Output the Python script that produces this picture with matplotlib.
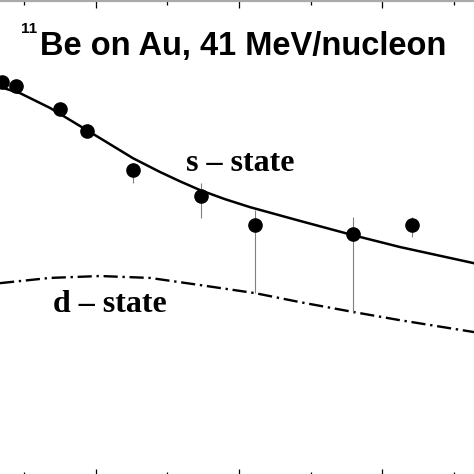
import matplotlib
matplotlib.use("Agg")
import matplotlib.pyplot as plt
from matplotlib.ticker import MultipleLocator

x_pts = [3.43, 4.41, 7.48, 9.37, 12.59, 17.34, 21.12, 27.97, 32.10]
y_pts = [8.29, 8.21, 7.73, 7.26, 6.44, 5.89, 5.28, 5.09, 5.28]
err_lo = [0.0, 0.0, 0.0, 0.0, 0.27, 0.46, 1.43, 1.66, 0.25]
err_hi = [0.0, 0.0, 0.0, 0.0, 0.15, 0.28, 0.32, 0.36, 0.17]

# s-state calculation
x_s = [3.29, 4.69, 6.78, 9.37, 12.59, 14.48, 15.90, 17.27, 19.00, 20.77, 24.27,
       27.97, 31.26, 36.43]
y_s = [8.19, 8.06, 7.75, 7.28, 6.69, 6.40, 6.20, 6.02, 5.83, 5.66, 5.37,
       5.07, 4.82, 4.48]

# d-state calculation
x_d = [3.29, 6.78, 10.28, 13.78, 17.27, 21.12, 24.27, 28.04, 31.26, 36.43]
y_d = [4.06, 4.17, 4.21, 4.17, 4.02, 3.85, 3.66, 3.45, 3.28, 3.03]

W = 474
fig = plt.figure(figsize=(4.74, 4.74), dpi=100)
ax = fig.add_axes([0, -2 / W, 1, 1 - 1 / W + 2 / W])

ax.plot(x_s, y_s, color="black", lw=1.8, zorder=2)
ax.plot(x_d, y_d, color="black", lw=1.7, linestyle=(0, (6, 2, 1, 2)), zorder=2)
ax.errorbar(x_pts, y_pts, yerr=[err_lo, err_hi], fmt="none", ecolor="#808080",
            elinewidth=0.8, capsize=0, zorder=3)
ax.plot(x_pts, y_pts, "o", color="black", ms=9.5, zorder=4)

ax.set_xlim(3.29, 36.43)
ax.set_ylim(0, 10)

ax.spines["left"].set_visible(False)
ax.spines["right"].set_visible(False)
ax.spines["top"].set_color("#aaaaaa")
ax.spines["top"].set_linewidth(1.6)
ax.spines["bottom"].set_color("#aaaaaa")

ax.xaxis.set_major_locator(MultipleLocator(10))
ax.xaxis.set_minor_locator(MultipleLocator(5))
ax.tick_params(axis="x", which="both", direction="in", top=True, bottom=True,
               labelbottom=False, labeltop=False, color="black", width=0.9)
ax.tick_params(axis="x", which="major", length=5)
ax.tick_params(axis="x", which="minor", length=3)
ax.set_yticks([])

fig.text(21 / W, 1 - 33 / W, "11", family="Liberation Sans", weight="bold",
         fontsize=11, ha="left", va="baseline")
fig.text(40 / W, 1 - 55 / W, "Be on Au, 41 MeV/nucleon", family="Liberation Sans",
         weight="bold", fontsize=23.5, ha="left", va="baseline")

fig.text(240 / W, 1 - 171 / W, "s \u2013 state", family="Liberation Serif",
         weight="bold", fontsize=23, ha="center", va="baseline")
fig.text(110 / W, 1 - 312 / W, "d \u2013 state", family="Liberation Serif",
         weight="bold", fontsize=23, ha="center", va="baseline")

fig.savefig("out.png", dpi=100)
